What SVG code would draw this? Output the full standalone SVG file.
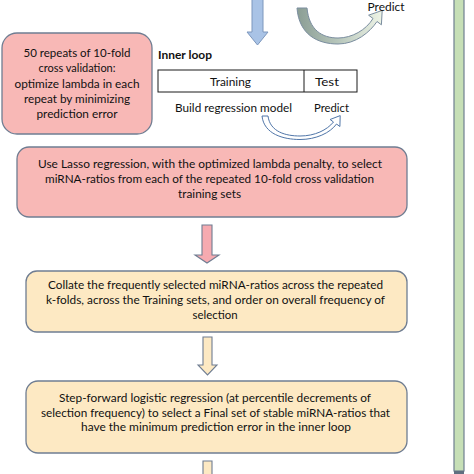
<svg xmlns="http://www.w3.org/2000/svg" width="474" height="474" viewBox="0 0 474 474">
<defs>
<linearGradient id="gTop" x1="0" y1="0" x2="1" y2="0">
<stop offset="0" stop-color="#8a9d94"/>
<stop offset="0.5" stop-color="#b9c8bd"/>
<stop offset="1" stop-color="#eef4e6"/>
</linearGradient>
<style>
.t{font-family:Lato,"Liberation Sans",sans-serif;font-size:12px;fill:#111111;text-anchor:middle}
.pink{fill:#f8b8b6;stroke:#6f7d92;stroke-width:1.3}
.yel{fill:#fde9c3;stroke:#6f7d92;stroke-width:1.3}
</style>
</defs>
<rect width="474" height="474" fill="#ffffff"/>

<g id="sidebar">
<rect x="454" y="-2" width="10" height="473" fill="#c6dfb6" stroke="#6e7f8f" stroke-width="1.2"/>
<rect x="454" y="471" width="10" height="4" fill="#5f6f80"/>
</g>

<g id="connectors">
<path d="M252,-2 L263,-2 L263,32 L268,32 L257.5,45 L247,32 L252,32 Z" fill="#a9c3e6" stroke="#7d97bd" stroke-width="1"/>
<path d="M297,8 C299,35 318,44 338,44 C356,44 370,32 377,21.5 L381.4,24.8 L382.2,10.4 L368.6,15.2 L373,18.5 C366,30 352,38 338,38 C322,38 309,30 307,8 Z" fill="url(#gTop)" stroke="#7a8d9f" stroke-width="1"/>
<path d="M262,116 C264,134 283,139.5 300,139.5 C316,139.5 330,133 336.5,124 L339.9,126.5 L340.2,115.6 L330.1,119.5 L333.5,122 C327,130 315,136 300,136 C286,136 270,132 268,116 Z" fill="#ffffff" stroke="#4f75a8" stroke-width="1"/>
<path d="M202,225 L212,225 L212,255 L219,255 L207,263 L195,255 L202,255 Z" fill="#f6aab0" stroke="#6f7d92" stroke-width="1.1"/>
<path d="M203,337 L212,337 L212,365 L217,365 L207.5,375 L198,365 L203,365 Z" fill="#fde9c3" stroke="#6f7d92" stroke-width="1.1"/>
<path d="M203,476 L203,461 L212,461 L212,476" fill="#fde9c3" stroke="#6f7d92" stroke-width="1.1"/>
</g>

<g id="predict-top">
<text class="t" x="386" y="11" textLength="37" lengthAdjust="spacingAndGlyphs">Predict</text>
</g>

<g id="outer-cv">
<rect class="pink" x="2" y="33" width="150" height="101" rx="15"/>
<text class="t" x="77" y="57" textLength="107" lengthAdjust="spacingAndGlyphs">50 repeats of 10-fold</text>
<text class="t" x="77" y="72" textLength="77" lengthAdjust="spacingAndGlyphs">cross validation:</text>
<text class="t" x="77" y="88" textLength="125" lengthAdjust="spacingAndGlyphs">optimize lambda in each</text>
<text class="t" x="77" y="103" textLength="106" lengthAdjust="spacingAndGlyphs">repeat by minimizing</text>
<text class="t" x="77" y="118" textLength="81" lengthAdjust="spacingAndGlyphs">prediction error</text>
</g>

<g id="inner-loop">
<text x="158" y="59" font-family="Lato,'Liberation Sans',sans-serif" font-size="12" font-weight="bold" fill="#111111" textLength="54" lengthAdjust="spacingAndGlyphs">Inner loop</text>
<rect x="158" y="70" width="199" height="22" fill="#ffffff" stroke="#1a1a1a" stroke-width="1"/>
<line x1="304" y1="70" x2="304" y2="92" stroke="#1a1a1a" stroke-width="1"/>
<text class="t" x="230.5" y="85.5" textLength="41" lengthAdjust="spacingAndGlyphs">Training</text>
<text class="t" x="327" y="85.5" textLength="24" lengthAdjust="spacingAndGlyphs">Test</text>
<text class="t" x="233.5" y="112" textLength="117" lengthAdjust="spacingAndGlyphs">Build regression model</text>
<text class="t" x="331.5" y="112" textLength="35" lengthAdjust="spacingAndGlyphs">Predict</text>
</g>

<g id="lasso">
<rect class="pink" x="17" y="147" width="390" height="70" rx="12"/>
<text class="t" x="210" y="167.5" textLength="344" lengthAdjust="spacingAndGlyphs">Use Lasso regression, with the optimized lambda penalty, to select</text>
<text class="t" x="209.5" y="182.5" textLength="329" lengthAdjust="spacingAndGlyphs">miRNA-ratios from each of the repeated 10-fold cross validation</text>
<text class="t" x="209.5" y="197.5" textLength="63" lengthAdjust="spacingAndGlyphs">training sets</text>
</g>

<g id="collate">
<rect class="yel" x="26" y="271" width="381" height="61" rx="11"/>
<text class="t" x="215.5" y="289" textLength="335" lengthAdjust="spacingAndGlyphs">Collate the frequently selected miRNA-ratios across the repeated</text>
<text class="t" x="215.5" y="304" textLength="339" lengthAdjust="spacingAndGlyphs">k-folds, across the Training sets, and order on overall frequency of</text>
<text class="t" x="215" y="319" textLength="45" lengthAdjust="spacingAndGlyphs">selection</text>
</g>

<g id="stepforward">
<rect class="yel" x="26" y="381" width="381" height="72" rx="12"/>
<text class="t" x="215" y="402" textLength="312" lengthAdjust="spacingAndGlyphs">Step-forward logistic regression (at percentile decrements of</text>
<text class="t" x="215.5" y="416.5" textLength="349" lengthAdjust="spacingAndGlyphs">selection frequency) to select a Final set of stable miRNA-ratios that</text>
<text class="t" x="216" y="431" textLength="270" lengthAdjust="spacingAndGlyphs">have the minimum prediction error in the inner loop</text>
</g>
</svg>
